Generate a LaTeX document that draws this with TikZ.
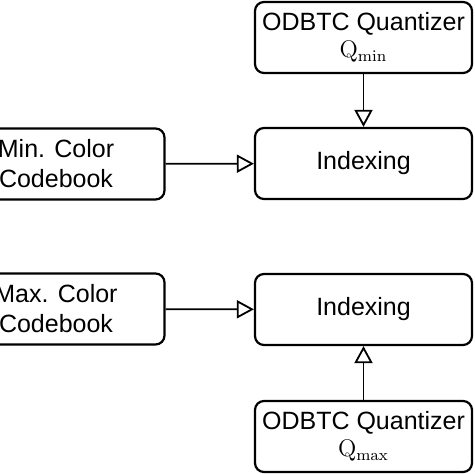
\documentclass[tikz,border=0pt]{standalone}
\usepackage[no-math]{fontspec}
\setmainfont{Liberation Sans}
\usetikzlibrary{arrows.meta}

\begin{document}
\begin{tikzpicture}[x=0.5pt, y=-0.5pt,
  blockbox/.style={draw=black, line width=1.1pt, rounded corners=4.5pt, fill=white,
    minimum width=108.5pt, minimum height=35.5pt, inner sep=0pt, align=center,
    font=\fontsize{12.5}{15}\selectfont},
  flowline/.style={line width=0.9pt, -{Triangle[open, length=8.5pt, width=9pt, line width=0.9pt]}}]
\pgfmathsetmacro{\xl}{56} % left column centre
\pgfmathsetmacro{\xr}{363.5} % right column centre

\useasboundingbox (0,0) rectangle (474,474); % page

\node[blockbox] (quantmin) at (\xr, 37.5) {ODBTC Quantizer\\[-1.5pt]{\fontsize{12}{12}\selectfont$\mathrm{Q}_{\mathrm{min}}$}}; %upper quantizer
\node[blockbox] (indexmin) at (\xr, 163.5) {Indexing}; %upper indexing
\node[blockbox] (bookmin) at (\xl, 164) {Min. Color\\Codebook}; %min codebook

\node[blockbox] (bookmax) at (\xl, 309) {Max. Color\\Codebook}; %max codebook
\node[blockbox] (indexmax) at (\xr, 309.5) {Indexing}; %lower indexing
\node[blockbox] (quantmax) at (\xr, 436.5) {ODBTC Quantizer\\[-1.5pt]{\fontsize{12}{12}\selectfont$\mathrm{Q}_{\mathrm{max}}$}}; %lower quantizer

\draw[flowline] (quantmin) -- (indexmin);
\draw[flowline] (bookmin) -- (indexmin);
\draw[flowline] (bookmax) -- (indexmax);
\draw[flowline] (quantmax) -- (indexmax);

\end{tikzpicture}
\end{document}
